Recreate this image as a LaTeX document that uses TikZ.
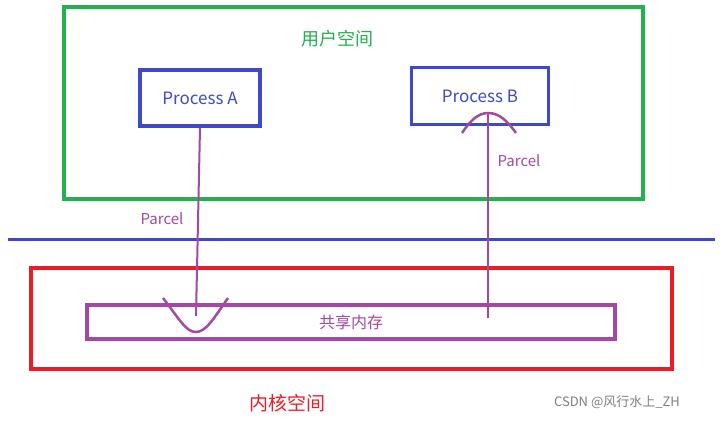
\documentclass[tikz,border=0pt]{standalone}
\usepackage{fontspec}
\setmainfont{Noto Sans CJK SC}
\begin{document}
\begin{tikzpicture}[x=1pt,y=-1pt,
  box/.style={line width=3.5pt},
  lbl/.style={inner sep=0pt,anchor=center}]
\definecolor{gr}{RGB}{34,177,76}
\definecolor{bl}{RGB}{63,72,204}
\definecolor{rd}{RGB}{237,28,36}
\definecolor{pu}{RGB}{163,73,164}
\useasboundingbox[fill=white] (0,0) rectangle (723,421);
\draw[box,gr] (64,7) rectangle (643,199);
\node[lbl,gr,font=\fontsize{18}{20}\selectfont] (us) at (337,39) {用户空间};
\node[box,draw=bl,minimum width=120pt,minimum height=56pt,text=bl,font=\fontsize{17}{20}\selectfont] (pa) at (200,98) {Process A};
\node[box,draw=bl,minimum width=137pt,minimum height=57pt,text=bl,font=\fontsize{17}{20}\selectfont] (pb) at (480,96) {Process B};
\coordinate (l1) at (8,239); \coordinate (l2) at (715,239);
\draw[bl,line width=3pt] (l1) -- (l2);
\draw[box,rd] (31,268) rectangle (672,369);
\node[lbl,rd,font=\fontsize{19}{22}\selectfont] (ks) at (287,403) {内核空间};
\node[box,draw=pu,minimum width=528pt,minimum height=34pt,text=pu,font=\fontsize{16}{18}\selectfont] (sm) at (351,322) {共享内存};
\coordinate (ab) at (196,332);
\draw[pu,line width=2pt] (pa.south) -- (196,316);
\draw[pu,line width=2.5pt] (163,298) .. controls (180,320) and (186,332) .. (ab) .. controls (206,332) and (214,318) .. (228,298);
\coordinate (bt) at (488,113);
\draw[pu,line width=2pt] (488,318) -- (bt);
\draw[pu,line width=2.5pt] (462,133) .. controls (470,121) and (478,113) .. (bt) .. controls (500,113) and (508,122) .. (516,133);
\node[lbl,pu,font=\fontsize{15}{18}\selectfont] (p1) at (162,219) {Parcel};
\node[lbl,pu,font=\fontsize{15}{18}\selectfont] (p2) at (519,161) {Parcel};
\node[lbl,gray,font=\fontsize{13}{15}\selectfont] (wm) at (617,402) {CSDN @风行水上\_ZH};
\end{tikzpicture}
\end{document}
